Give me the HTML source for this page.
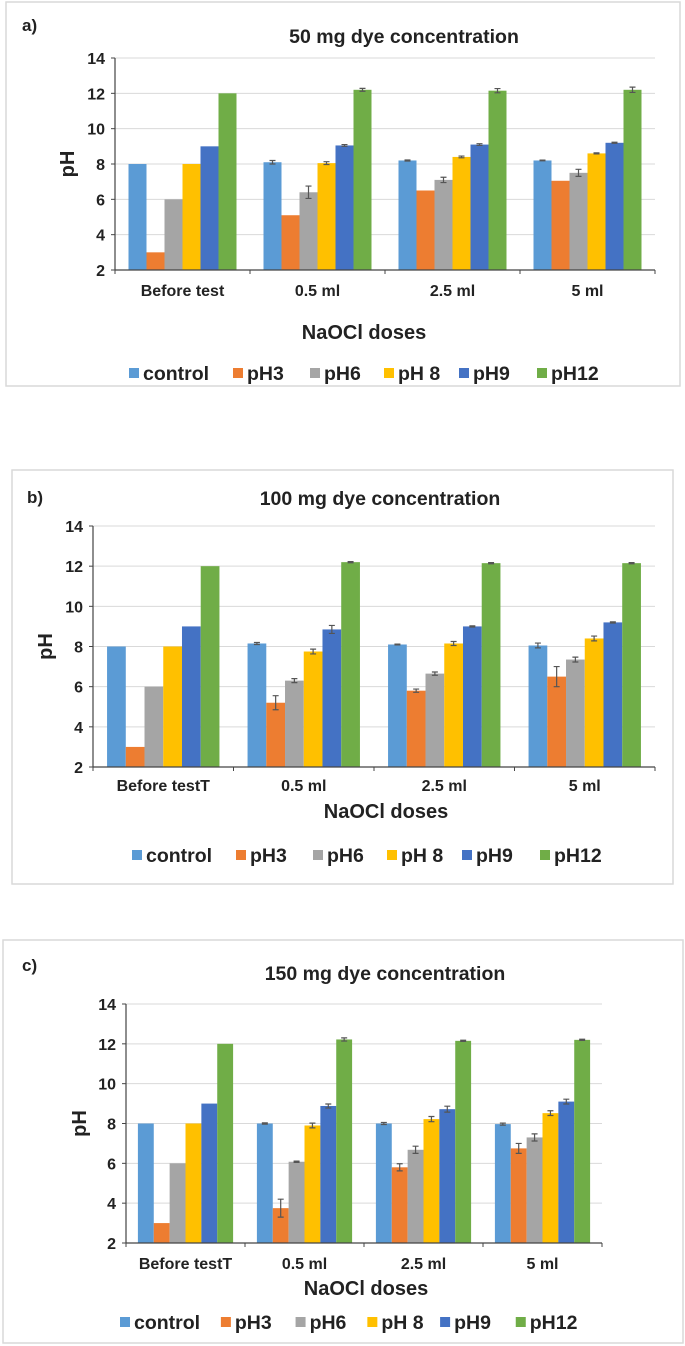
<!DOCTYPE html>
<html><head><meta charset="utf-8"><style>
body{margin:0;background:#fff;}
svg{display:block;font-family:"Liberation Sans",Arial,sans-serif;font-weight:bold;}
</style></head><body>
<svg id="fig" width="685" height="1346" viewBox="0 0 685 1346" xmlns="http://www.w3.org/2000/svg"></svg>
<script>
const categoriesA = ["Before test","0.5 ml","2.5 ml","5 ml"];
const categoriesBC = ["Before testT","0.5 ml","2.5 ml","5 ml"];
const seriesNames = ["control","pH3","pH6","pH 8","pH9","pH12"];
const colors = ["#5B9BD5","#ED7D31","#A5A5A5","#FFC000","#4472C4","#70AD47"];
const yTicks = [2,4,6,8,10,12,14];
// chart a values
const aControl=[8,8.1,8.2,8.2], aPH3=[3,5.1,6.5,7.05], aPH6=[6,6.4,7.1,7.5], aPH8=[8,8.05,8.4,8.6], aPH9=[9,9.05,9.1,9.2], aPH12=[12,12.2,12.15,12.2];
const aErrControl=[0,0.1,0.03,0.02], aErrPH3=[0,0,0,0], aErrPH6=[0,0.35,0.15,0.2], aErrPH8=[0,0.08,0.05,0.03], aErrPH9=[0,0.05,0.05,0.03], aErrPH12=[0,0.08,0.12,0.15];
// chart b values
const bControl=[8,8.15,8.1,8.05], bPH3=[3,5.2,5.8,6.5], bPH6=[6,6.3,6.65,7.35], bPH8=[8,7.75,8.15,8.4], bPH9=[9,8.85,9,9.2], bPH12=[12,12.2,12.15,12.15];
const bErrControl=[0,0.05,0.02,0.12], bErrPH3=[0,0.35,0.08,0.5], bErrPH6=[0,0.1,0.08,0.12], bErrPH8=[0,0.12,0.1,0.12], bErrPH9=[0,0.2,0.03,0.03], bErrPH12=[0,0.03,0.03,0.03];
// chart c values
const cControl=[8,8,8,7.97], cPH3=[3,3.75,5.8,6.75], cPH6=[6,6.08,6.68,7.3], cPH8=[8,7.9,8.22,8.52], cPH9=[9,8.88,8.72,9.1], cPH12=[12,12.22,12.15,12.2];
const cErrControl=[0,0.03,0.05,0.05], cErrPH3=[0,0.45,0.18,0.25], cErrPH6=[0,0.03,0.18,0.18], cErrPH8=[0,0.12,0.13,0.12], cErrPH9=[0,0.1,0.15,0.12], cErrPH12=[0,0.08,0.03,0.03];

const NS="http://www.w3.org/2000/svg";
const svg=document.getElementById('fig');
function mk(tag,attrs,parent,text){const e=document.createElementNS(NS,tag);for(const k in attrs)e.setAttribute(k,attrs[k]);if(text!==undefined)e.textContent=text;(parent||svg).appendChild(e);return e;}

function chart(cfg){
  const g=mk('g',{});
  
  
  const fr=mk('rect',{x:cfg.frame[0],y:cfg.frame[1],width:cfg.frame[2],height:cfg.frame[3],fill:'#fff',stroke:'#d9d9d9','stroke-width':1.5},g);
  
  
  const lab=mk('text',{x:cfg.labelPos[0],y:cfg.labelPos[1],'font-size':17,fill:'#222'},g,cfg.label);
  
  
  const t=mk('text',{x:cfg.titlePos[0],y:cfg.titlePos[1],'font-size':19.5,'text-anchor':'middle',fill:'#222'},g,cfg.title);
  
  
  const x0=cfg.x0,x1=cfg.x1,yTop=cfg.yTop,yBot=cfg.yBot;
  const ys=v=>yBot-(v-2)/12*(yBot-yTop);
  const n=cfg.cats.length, cw=(x1-x0)/n;
  const xc=i=>x0+cw*(i+0.5);
  yTicks.forEach(v=>{
    if(v>2){const gl=mk('line',{x1:x0,x2:x1,y1:ys(v),y2:ys(v),stroke:'#d9d9d9','stroke-width':1},g);
      
      }
    const tl=mk('text',{x:x0-10,y:ys(v)+6,'font-size':16,'text-anchor':'end',fill:'#222'},g,String(v));
    
    
    mk('line',{x1:x0-4,x2:x0,y1:ys(v),y2:ys(v),stroke:'#444'},g);
  });
  const yt=mk('text',{x:0,y:0,'font-size':20,'text-anchor':'middle',fill:'#222',transform:`translate(${cfg.yTitleX},${(yTop+yBot)/2}) rotate(-90)`},g,'pH');
  
  
  const bw=cw*0.8/6;
  cfg.series.forEach((vals,s)=>{
    vals.forEach((v,i)=>{
      const bx=xc(i)-cw*0.4+s*bw;
      const r=mk('rect',{x:bx,y:ys(v),width:bw,height:yBot-ys(v),fill:colors[s]},g);
      
      
      const e=cfg.errs[s][i];
      if(e>0){
        const cx=bx+bw/2;
        const eb=mk('path',{d:`M${cx},${ys(v+e)}V${ys(v-e)}M${cx-3},${ys(v+e)}H${cx+3}M${cx-3},${ys(v-e)}H${cx+3}`,stroke:'#555','stroke-width':1.2,fill:'none'},g);
        
        
      }
    });
  });
  mk('line',{x1:x0,x2:x0,y1:yTop,y2:yBot,stroke:'#444','stroke-width':1.2},g);
  mk('line',{x1:x0,x2:x1,y1:yBot,y2:yBot,stroke:'#444','stroke-width':1.2},g);
  for(let i=0;i<=n;i++) mk('line',{x1:x0+cw*i,x2:x0+cw*i,y1:yBot,y2:yBot+4,stroke:'#444'},g);
  cfg.cats.forEach((c,i)=>{
    const cl=mk('text',{x:xc(i),y:cfg.catY,'font-size':16,'text-anchor':'middle',fill:'#222'},g,c);
    
    
  });
  const xt=mk('text',{x:cfg.xTitlePos[0],y:cfg.xTitlePos[1],'font-size':20,'text-anchor':'middle',fill:'#222'},g,'NaOCl doses');
  
  
  const lg=mk('g',{},g);
  
  
  const offs=[0,104,181,255,330,408];
  seriesNames.forEach((s,k)=>{
    const lx=cfg.legX+offs[k]*cfg.legScale;
    const e=mk('g',{},lg);
    
    
    mk('rect',{x:lx,y:cfg.legY-12,width:10,height:10,fill:colors[k]},e);
    mk('text',{x:lx+14,y:cfg.legY,'font-size':19.5,fill:'#222'},e,s);
  });
}
chart({name:'chart-a-50mg',label:'a)',title:'50 mg dye concentration',frame:[6,2,674,384],labelPos:[22,31],titlePos:[404,43],
  x0:115,x1:655,yTop:58,yBot:270,yTitleX:74,catY:296,xTitlePos:[364,339],legX:129,legY:380,legScale:1.0,cats:categoriesA,
  series:[aControl,aPH3,aPH6,aPH8,aPH9,aPH12],errs:[aErrControl,aErrPH3,aErrPH6,aErrPH8,aErrPH9,aErrPH12]});
chart({name:'chart-b-100mg',label:'b)',title:'100 mg dye concentration',frame:[12,470,661,414],labelPos:[27,503],titlePos:[380,505],
  x0:93,x1:655,yTop:526,yBot:767,yTitleX:52,catY:791,xTitlePos:[386,818],legX:132,legY:862,legScale:1.0,cats:categoriesBC,
  series:[bControl,bPH3,bPH6,bPH8,bPH9,bPH12],errs:[bErrControl,bErrPH3,bErrPH6,bErrPH8,bErrPH9,bErrPH12]});
chart({name:'chart-c-150mg',label:'c)',title:'150 mg dye concentration',frame:[3,940,680,403],labelPos:[22,971],titlePos:[385,980],
  x0:126,x1:602,yTop:1004,yBot:1243,yTitleX:86,catY:1269,xTitlePos:[366,1295],legX:120,legY:1329,legScale:0.97,cats:categoriesBC,
  series:[cControl,cPH3,cPH6,cPH8,cPH9,cPH12],errs:[cErrControl,cErrPH3,cErrPH6,cErrPH8,cErrPH9,cErrPH12]});
</script>
</body></html>
